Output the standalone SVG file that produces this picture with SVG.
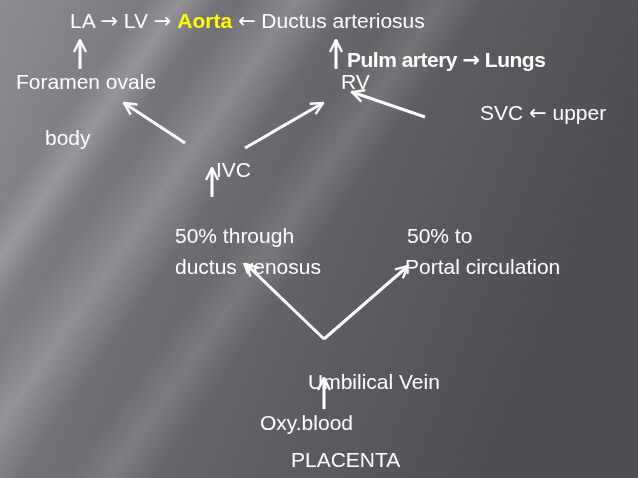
<svg xmlns="http://www.w3.org/2000/svg" width="638" height="478" viewBox="0 0 638 478">
<defs>
<linearGradient id="bg" x1="0" y1="0" x2="1" y2="0.3">
<stop offset="0" stop-color="#8e8b93"/><stop offset="0.3" stop-color="#75727a"/><stop offset="0.7" stop-color="#5d5a61"/><stop offset="1" stop-color="#4f4c53"/>
</linearGradient>
<linearGradient id="streak" x1="0" y1="0" x2="1" y2="0">
<stop offset="0" stop-color="#fff" stop-opacity="0"/><stop offset="0.5" stop-color="#fff" stop-opacity="0.22"/><stop offset="1" stop-color="#fff" stop-opacity="0"/>
</linearGradient>
<marker id="ah" viewBox="0 0 10 10" refX="9" refY="5" markerWidth="5" markerHeight="5" orient="auto" markerUnits="strokeWidth">
<path d="M1,1 L9,5 L1,9" fill="none" stroke="#fff" stroke-width="1.6"/>
</marker>
<style>
text{font-family:"Liberation Sans",Arial,sans-serif;fill:#fff;font-size:21px}
.ar{font-family:"DejaVu Sans",sans-serif}
.c line{stroke:#fff;stroke-width:3;marker-end:url(#ah)}
</style>
</defs>
<rect width="638" height="478" fill="url(#bg)"/>
<g transform="rotate(35 200 200)" opacity="0.9">
<rect x="120" y="-200" width="90" height="800" fill="url(#streak)"/>
<rect x="40" y="-200" width="60" height="800" fill="url(#streak)"/>
<rect x="250" y="-200" width="70" height="800" fill="url(#streak)" opacity="0.6"/>
</g>
<g id="top"><text x="70" y="28" font-size="20.5">LA <tspan class="ar">→</tspan> LV <tspan class="ar">→</tspan> <tspan fill="#ffff00" font-weight="bold">Aorta</tspan> <tspan class="ar">←</tspan> Ductus arteriosus</text></g>
<g id="pulm"><text x="347" y="67" font-size="13" font-weight="bold" letter-spacing="-0.5">Pulm artery  <tspan class="ar">→</tspan> Lungs</text></g>
<g id="foramen"><text x="16" y="89">Foramen ovale</text></g>
<g id="rv"><text x="341" y="89">RV</text></g>
<g id="svc"><text x="480" y="120">SVC  <tspan class="ar">←</tspan> upper</text></g>
<g id="body"><text x="45" y="145">body</text></g>
<g id="ivc"><text x="216" y="177">IVC</text></g>
<g id="dv"><text x="175" y="243">50% through</text><text x="175" y="274">ductus venosus</text></g>
<g id="portal"><text x="407" y="243">50% to</text><text x="405" y="274">Portal circulation</text></g>
<g id="uv"><text x="308" y="389">Umbilical Vein</text></g>
<g id="oxy"><text x="260" y="430" font-size="11.5">Oxy.blood</text></g>
<g id="placenta"><text x="291" y="467" font-size="26.5">PLACENTA</text></g>
<g class="c" id="connectors">
<line x1="80" y1="69" x2="80" y2="40"/>
<line x1="336" y1="69" x2="336" y2="40"/>
<line x1="185" y1="143" x2="124" y2="103"/>
<line x1="245" y1="148" x2="323" y2="103"/>
<line x1="425" y1="117" x2="352" y2="92"/>
<line x1="212" y1="197" x2="212" y2="168"/>
<line x1="324" y1="339" x2="246" y2="264"/>
<line x1="324" y1="339" x2="408" y2="266"/>
<line x1="324" y1="409" x2="324" y2="378"/>
</g>
</svg>
